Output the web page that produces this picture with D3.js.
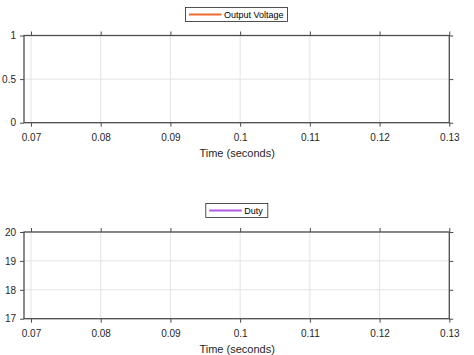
<!DOCTYPE html>
<html><head><meta charset="utf-8">
<script src="https://cdn.jsdelivr.net/npm/d3@7"></script>
<style>
html,body{margin:0;padding:0;background:#fff;}
svg{display:block;font-family:"Liberation Sans",Arial,Helvetica,sans-serif;}
</style></head>
<body>
<svg id="chart" width="474" height="355"></svg>
<script>
// Data
const timeTicks = [0.07, 0.08, 0.09, 0.10, 0.11, 0.12, 0.13];
const timeTickLabels = ["0.07","0.08","0.09","0.1","0.11","0.12","0.13"];
const timeDomain = [0.069, 0.13];
const voltageTicks = [0, 0.5, 1];
const voltageTickLabels = ["0","0.5","1"];
const voltageDomain = [0, 1];
const dutyTicks = [17, 18, 19, 20];
const dutyTickLabels = ["17","18","19","20"];
const dutyDomain = [17, 20];
// series values (nothing lies inside the visible window)
const voltageTime = [];
const voltageValues = [];
const dutyTime = [];
const dutyValues = [];
const seriesNames = ["Output Voltage", "Duty"];
const xLabel = "Time (seconds)";

const svg = d3.select("#chart");
const axisColor = "#4d4d4d";
const textColor = "#262626";
const gridColor = "#e3e3e3";
const FONT = '"Liberation Sans",Arial,sans-serif';

function panel(cfg){
  const {top, bottom, yDomain, yTicks, yLabels, tTimes, vals, color, name, legend} = cfg;
  const left = 24, right = 449.3;
  const x = d3.scaleLinear().domain(timeDomain).range([left, right]);
  const y = d3.scaleLinear().domain(yDomain).range([bottom, top]);
  const g = svg.append("g");
  const id = "clip" + Math.round(top);
  g.append("clipPath").attr("id", id).append("rect")
    .attr("x", left).attr("y", top).attr("width", right-left).attr("height", bottom-top);
  // grid
  g.append("g").selectAll("line").data(timeTicks).join("line")
    .attr("x1", d=>x(d)).attr("x2", d=>x(d)).attr("y1", top).attr("y2", bottom)
    .attr("stroke", gridColor).attr("stroke-width", 1);
  g.append("g").selectAll("line").data(yTicks).join("line")
    .attr("y1", d=>y(d)).attr("y2", d=>y(d)).attr("x1", left).attr("x2", right)
    .attr("stroke", gridColor).attr("stroke-width", 1);
  // series
  const line = d3.line().x((d,i)=>x(tTimes[i])).y(d=>y(d));
  g.append("path").datum(vals).attr("d", vals.length ? line(vals) : null).attr("fill","none")
    .attr("stroke", color).attr("stroke-width", 1.5).attr("clip-path", `url(#${id})`);
  // axes
  const fmtX = (d,i)=>timeTickLabels[i];
  const fmtY = (d,i)=>yLabels[i];
  const axB = d3.axisBottom(x).tickValues(timeTicks).tickFormat(fmtX).tickSize(4).tickPadding(7.5);
  const axT = d3.axisTop(x).tickValues(timeTicks).tickFormat("").tickSize(4);
  const axL = d3.axisLeft(y).tickValues(yTicks).tickFormat(fmtY).tickSize(4).tickPadding(4);
  const axR = d3.axisRight(y).tickValues(yTicks).tickFormat("").tickSize(4);
  const gb = g.append("g").attr("transform",`translate(0,${bottom})`).call(axB);
  const gt = g.append("g").attr("transform",`translate(0,${top})`).call(axT);
  const gl = g.append("g").attr("transform",`translate(${left},0)`).call(axL);
  const gr = g.append("g").attr("transform",`translate(${right},0)`).call(axR);
  [gb,gt,gl,gr].forEach(a=>{
    a.attr("font-family", FONT).attr("font-size", 10);
    a.select(".domain").remove();
    a.selectAll(".tick line").attr("stroke", axisColor).attr("stroke-width", 1);
    a.selectAll("text").attr("fill", textColor);
  });
  // box frame
  g.append("rect").attr("x", left).attr("y", top).attr("width", right-left).attr("height", bottom-top)
    .attr("fill","none").attr("stroke", axisColor).attr("stroke-width", 1.3);
  // x label
  g.append("text").attr("x", x(0.1)-3).attr("y", bottom+34).attr("text-anchor","middle")
    .attr("fill", textColor).attr("font-family", FONT).attr("font-size", 11).text(xLabel);
  // legend
  const lg = g.append("g");
  lg.append("rect").attr("x", legend.x).attr("y", legend.y).attr("width", legend.w).attr("height", 14)
    .attr("fill","#fff").attr("stroke","#262626").attr("stroke-width",0.8);
  lg.append("line").attr("x1", legend.x+3.5).attr("x2", legend.x+36).attr("y1", legend.y+7).attr("y2", legend.y+7)
    .attr("stroke", color).attr("stroke-width", 2);
  lg.append("text").attr("x", legend.x+38.5).attr("y", legend.y+10.5).attr("fill","#000")
    .attr("font-family", FONT).attr("font-size", 9).text(name);
}

panel({top:35.5, bottom:122.7, yDomain:voltageDomain, yTicks:voltageTicks, yLabels:voltageTickLabels,
  tTimes:voltageTime, vals:voltageValues, color:"#f26a2e", name:seriesNames[0],
  legend:{x:185.5, y:7.5, w:102}});
panel({top:232, bottom:318.7, yDomain:dutyDomain, yTicks:dutyTicks, yLabels:dutyTickLabels,
  tTimes:dutyTime, vals:dutyValues, color:"#b05ae6", name:seriesNames[1],
  legend:{x:205.8, y:203.5, w:62}});
</script>
</body></html>
